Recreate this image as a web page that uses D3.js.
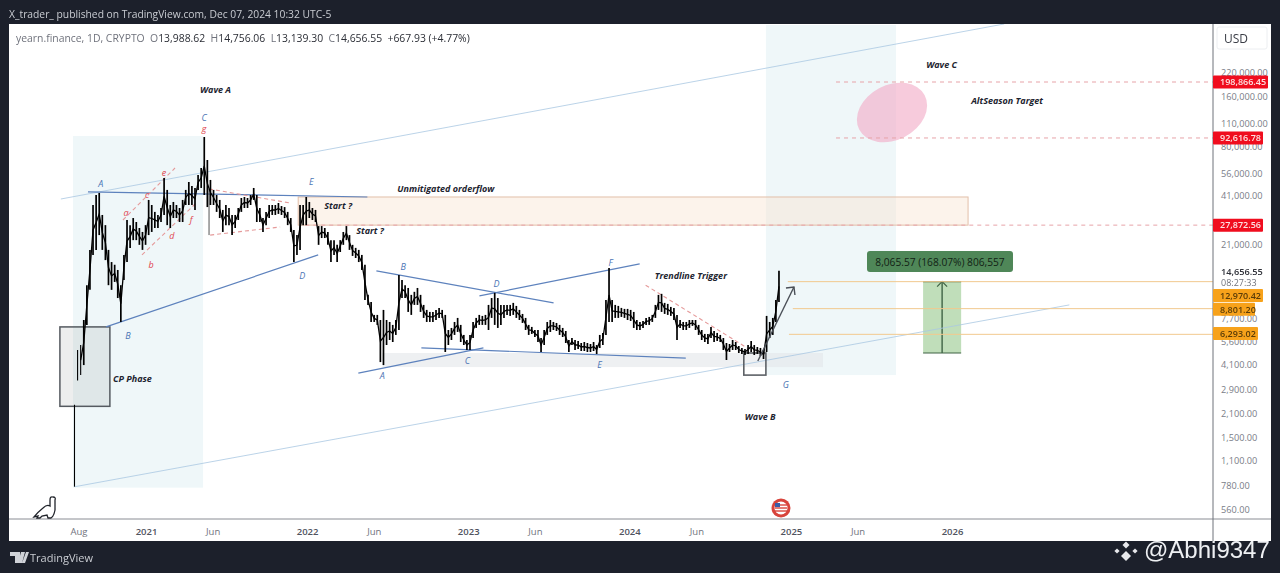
<!DOCTYPE html>
<html><head><meta charset="utf-8">
<script src="https://cdn.jsdelivr.net/npm/d3@7"></script>
<style>
html,body{margin:0;padding:0;background:#1c202b;overflow:hidden}
svg{display:block;filter:blur(.45px)}
text{font-family:"Open Sans",sans-serif}
</style></head><body><svg id="c" width="1280" height="573"></svg>
<script>
// ---------- data ----------
const seriesStart = new Date(2020,6,23);
const weeklyLow = [770,3290,3540,4060,7030,11350,18300,19600,24000,19600,17050,12100,11350,12650,10150,7320,13000,16600,20100,22400,22400,21000,19600,21000,24000,25050,26450,26450,28700,31600,27500,26450,30300,30300,28700,28700,36200,36200,36200,33850,44500,45700,41500,35200,36200,36200,32950,30300,25050,27500,27500,24000,26450,29500,32950,34750,34750,36200,38800,28700,28700,25050,27500,30300,31600,31600,32050,31600,30300,27500,25050,16600,18300,19600,27500,27500,30300,29500,28700,21000,23050,23050,21000,16600,18300,16600,19050,21000,22400,19600,18050,17550,16600,14900,9875,9240,7320,7320,7030,4230,4060,5340,5720,5565,6130,6560,10150,10150,8395,8060,9240,9240,8395,7735,7320,7320,7320,7520,7735,7735,4855,5340,5720,6130,6385,5565,5340,4990,4990,5880,6745,7030,7030,7030,6560,7735,7030,6745,7030,7735,8060,7950,8060,7735,7520,7220,6560,6130,6215,5960,5565,4855,5340,6130,6385,6560,6470,6130,5960,5490,4855,5340,4990,5060,4920,4920,4855,4855,4920,4725,5130,5340,6130,7320,7320,7735,7735,7840,7735,7520,7420,6745,6560,6560,6745,7030,7030,7320,7735,8630,8395,8170,8060,7950,7520,5720,6745,6560,6560,6745,6935,6560,6130,5720,5565,5415,5880,5565,5640,5565,4990,4350,4855,4990,4990,4790,4725,4660,4725,4855,4660,4725,4595,4410,4855,5880,6130,7320,9625];
const weeklyHigh = [2360,4990,5340,7520,12100,19600,36200,41500,42700,31600,27500,19600,16600,16000,14900,12100,18300,29500,27500,30300,28700,26450,25050,27500,38800,36200,32950,31600,34750,52400,44500,36200,37750,36200,34750,38800,44500,49600,46950,45700,54600,60050,91700,67000,51000,44500,41500,38800,33850,36200,34750,31600,31600,34750,39850,40400,39850,41500,45700,41500,34750,30300,32950,36200,36200,36200,37200,35700,35200,32950,30300,25750,24000,36200,36200,40400,37750,34750,33850,27150,27150,26450,25050,22400,22400,21000,22400,25050,27150,24000,21000,20150,19600,18300,16000,10600,9625,8060,8060,7520,8630,7520,7320,7030,7520,13900,13000,12100,11650,10600,11050,11650,10600,9240,8630,8395,8395,8630,8870,8630,8060,6560,6745,7320,7735,7030,6130,5720,6130,7320,7735,8060,7950,8060,9240,10150,10900,10150,9240,9240,9240,9240,9500,9115,8630,8170,7735,7030,6840,6560,6560,5880,6560,7320,7520,7320,7220,7030,6745,6470,5720,5880,5720,5640,5490,5565,5490,5415,5565,5340,6130,6300,9875,15300,9875,9240,9115,8870,8750,8750,8630,8395,7520,7320,7420,7735,7840,8060,9240,10600,10750,9500,9370,8990,8870,8060,7520,7320,7320,7520,7520,7520,7030,6560,6215,6215,6840,6470,6300,6130,5880,5490,5415,5720,5565,5270,5130,5060,5340,5640,5340,5200,5130,4990,7950,7320,7735,9875,14756];

const xTickDates = [new Date(2020,7,1),new Date(2021,0,1),new Date(2021,5,1),new Date(2022,0,1),new Date(2022,5,1),new Date(2023,0,1),new Date(2023,5,1),new Date(2024,0,1),new Date(2024,5,1),new Date(2025,0,1),new Date(2025,5,1),new Date(2026,0,1)];
const priceTicks = [220000,160000,110000,80000,56000,41000,21000,7700,5600,4100,2900,2100,1500,1100,780,560];
const sideLabels = ["Aug","2021","Jun","2022","Jun","2023","Jun","2024","Jun","2025","Jun","2026"];

// zones and drawings: decimal years and prices
const zones = [[2020.547,2021.354,93000,760],[2024.845,2025.652,424000,3540]];
const channelLines = [[2020.472,39300,2026.323,430000],[2020.559,770,2026.727,9240]];
const blueLines = [[2020.640,43300,2022.373,40400],[2020.752,6840,2022.068,18300],[2022.317,3640,2023.093,5130],[2022.708,5130,2024.348,4470],[2022.429,14700,2023.528,9500],[2023.068,10450,2024.062,16200]];
const redDashed = [[2020.857,29500,2021.180,60050],[2020.975,18300,2021.311,37200],[2021.391,45100,2021.894,37200],[2021.398,24000,2021.832,26800],[2024.099,12100,2024.739,5060]];
const targets = [{v:194500,from:2025.280,label:"198,866.45",w:55,tag:194500},{v:90500,from:2025.280,label:"92,616.78",w:50,tag:90500},{v:27500,from:2021.988,label:"27,872.56",w:50,tag:27500}];
const supports = [{v:12700,from:2024.981,label:"12,970.42",w:50,tag:10500},{v:8780,from:2025.012,label:"8,801.20",w:42,tag:8700},{v:6180,from:2024.988,label:"6,293.02",w:45,tag:6250}];
const orderBox = [2021.944,2026.099,40400,27500];
const greyBand = [2022.466,2025.199,4790,3950];
const cpBox = [2020.466,2020.776,6840,2310];
const gBox = [2024.708,2024.845,4790,3540];
const measure = [2025.820,2026.056,12700,4790];
const arrowLine = [2024.795,4290,2025.019,11800];
const notes = [["Wave A",2021.335,167400],["Wave C",2025.839,235500],["AltSeason Target",2026.118,144000],["Unmitigated orderflow",2022.559,43300],["Start ?",2022.106,34300],["Start ?",2022.304,24350],["Trendline Trigger",2024.155,13200],["CP Phase",2020.795,3220],["Wave B",2024.714,1920]];
const blueLetters = [["A",2020.720,46300],["B",2020.888,5800],["C",2021.360,114000],["D",2021.969,13200],["E",2022.025,47600],["A",2022.466,3340],["B",2022.596,14900],["C",2022.994,4120],["D",2023.174,11800],["E",2023.814,3900],["F",2023.882,15700],["G",2024.969,2960]];
const redLetters = [["g",2021.360,98000],["a",2020.876,31100],["b",2021.031,15300],["c",2021.006,39800],["d",2021.161,22700],["e",2021.111,53800],["f",2021.280,28300]];

// ---------- scales ----------
const x = d3.scaleTime().domain([new Date(2021,0,1),new Date(2026,0,1)]).range([146,952]);
const y = d3.scaleLog().domain([220000,560]).range([73,510]);
const d0 = new Date(2021,0,1);
const X = yr => x(new Date(+d0+(yr-2021)*365.25*864e5));
const svg = d3.select("#c");

// frame
svg.append("rect").attr("x",9).attr("y",24).attr("width",1262).attr("height",517).attr("fill","#fff");
svg.append("defs").append("clipPath").attr("id","plot").append("rect").attr("x",9).attr("y",24).attr("width",1204).attr("height",495);
const g = svg.append("g").attr("clip-path","url(#plot)");

// zones
g.selectAll(null).data(zones).join("rect").attr("x",d=>X(d[0])).attr("width",d=>X(d[1])-X(d[0])).attr("y",d=>y(d[2])).attr("height",d=>y(d[3])-y(d[2])).attr("fill","#eff7f9");
g.append("rect").attr("x",X(orderBox[0])).attr("width",X(orderBox[1])-X(orderBox[0])).attr("y",y(orderBox[2])).attr("height",y(orderBox[3])-y(orderBox[2])).attr("fill","#f8e3d0").attr("fill-opacity",.42).attr("stroke","#e3bfa9").attr("stroke-width",1);
g.append("rect").attr("x",X(greyBand[0])).attr("width",X(greyBand[1])-X(greyBand[0])).attr("y",y(greyBand[2])).attr("height",y(greyBand[3])-y(greyBand[2])).attr("fill","#e3e6ea").attr("opacity",.6);
g.append("rect").attr("x",X(cpBox[0])).attr("width",X(cpBox[1])-X(cpBox[0])).attr("y",y(cpBox[2])).attr("height",y(cpBox[3])-y(cpBox[2])).attr("fill","#7c8a8a").attr("fill-opacity",.14).attr("stroke","#555a60").attr("stroke-width",1.5);
g.append("ellipse").attr("transform","translate(892,112.5) rotate(-28)").attr("rx",37).attr("ry",27.5).attr("fill","#f2a8c4").attr("opacity",.6);

// measure
const mx0=X(measure[0]),mx1=X(measure[1]),mxc=(mx0+mx1)/2;
g.append("rect").attr("x",mx0).attr("width",mx1-mx0).attr("y",y(measure[2])).attr("height",y(measure[3])-y(measure[2])).attr("fill","#b5d8ae").attr("opacity",.85);
[measure[2],measure[3]].forEach(v=>g.append("line").attr("x1",mx0).attr("x2",mx1).attr("y1",y(v)).attr("y2",y(v)).attr("stroke","#3f6345").attr("stroke-width",1.2));
g.append("line").attr("x1",mxc).attr("x2",mxc).attr("y1",y(measure[2])).attr("y2",y(measure[3])).attr("stroke","#3f6345").attr("stroke-width",1.4);
g.append("path").attr("d",`M${mxc-5},${y(measure[2])+5}L${mxc},${y(measure[2])}L${mxc+5},${y(measure[2])+5}`).attr("fill","none").attr("stroke","#3f6345").attr("stroke-width",1.2);

// lines
const seg = (sel,data,c,w,dash)=>sel.selectAll(null).data(data).join("line").attr("x1",d=>X(d[0])).attr("y1",d=>y(d[1])).attr("x2",d=>X(d[2])).attr("y2",d=>y(d[3])).attr("stroke",c).attr("stroke-width",w).attr("stroke-dasharray",dash||null);
seg(g,channelLines,"#a9c8e2",.8);
seg(g,blueLines,"#5d82bd",1.2);
seg(g,redDashed,"#e59a9a",1.1,"4 3");
g.append("line").attr("x1",X(2021.391)).attr("x2",X(2021.391)).attr("y1",y(45100)).attr("y2",y(24000)).attr("stroke","#555").attr("stroke-width",1);
g.selectAll(null).data(targets).join("line").attr("x1",d=>X(d.from)).attr("x2",1213).attr("y1",d=>y(d.v)).attr("y2",d=>y(d.v)).attr("stroke","#e7a3a8").attr("stroke-width",1).attr("stroke-dasharray","4 4");
g.selectAll(null).data(supports).join("line").attr("x1",d=>X(d.from)).attr("x2",1213).attr("y1",d=>y(d.v)).attr("y2",d=>y(d.v)).attr("stroke","#f2c98f").attr("stroke-width",1);
g.append("rect").attr("x",X(gBox[0])).attr("width",X(gBox[1])-X(gBox[0])).attr("y",y(gBox[2])).attr("height",y(gBox[3])-y(gBox[2])).attr("fill","none").attr("stroke","#5d6166").attr("stroke-width",1.6);

// price
const wx = i=>x(d3.timeDay.offset(seriesStart,i*7));
const weeks = weeklyLow.map((l,i)=>({i,l,h:weeklyHigh[i]}));
g.selectAll(null).data(weeks).join("line").attr("x1",d=>wx(d.i)).attr("x2",d=>wx(d.i)).attr("y1",d=>y(d.l)).attr("y2",d=>y(d.h)).attr("stroke","#000").attr("stroke-width",d=>d.i<3?1.1:1.7);
g.append("path").attr("d",d3.line().x(d=>wx(d.i)).y(d=>(y(d.l)+y(d.h))/2)(weeks.slice(2))).attr("fill","none").attr("stroke","#000").attr("stroke-width",1.3);

// arrow
const ax0=X(arrowLine[0]),ay0=y(arrowLine[1]),ax1=X(arrowLine[2]),ay1=y(arrowLine[3]);
g.append("line").attr("x1",ax0).attr("y1",ay0).attr("x2",ax1).attr("y2",ay1).attr("stroke","#4a4f57").attr("stroke-width",1.4);
g.append("path").attr("d",`M${ax1-8},${ay1+1}L${ax1},${ay1}L${ax1+1},${ay1+8}`).attr("fill","none").attr("stroke","#4a4f57").attr("stroke-width",1.4);

// measure label
g.append("rect").attr("x",867).attr("y",251).attr("width",146).attr("height",21).attr("rx",3).attr("fill","#4f8758");
g.append("text").attr("x",940).attr("y",265.5).attr("text-anchor","middle").attr("font-size",10.2).attr("fill","#122215").text("8,065.57 (168.07%) 806,557");

// notes
g.selectAll(null).data(notes).join("text").attr("x",d=>X(d[1])).attr("y",d=>y(d[2])).attr("font-size",9).attr("font-style","italic").attr("font-weight",700).attr("fill","#1d2430").text(d=>d[0]);
g.selectAll(null).data(blueLetters).join("text").attr("x",d=>X(d[1])).attr("y",d=>y(d[2])).attr("text-anchor","middle").attr("font-size",9).attr("font-style","italic").attr("fill","#4d76b5").text(d=>d[0]);
g.selectAll(null).data(redLetters).join("text").attr("x",d=>X(d[1])).attr("y",d=>y(d[2])).attr("text-anchor","middle").attr("font-size",9).attr("font-style","italic").attr("fill","#e0454f").text(d=>d[0]);

// axes
svg.append("line").attr("x1",9).attr("x2",1271).attr("y1",519).attr("y2",519).attr("stroke","#8a8d94");
svg.append("line").attr("x1",1213).attr("x2",1213).attr("y1",24).attr("y2",541).attr("stroke","#6f727a");
const ax = svg.append("g").attr("transform","translate(0,519)").call(d3.axisBottom(x).tickValues(xTickDates).tickSize(0).tickFormat((d,i)=>sideLabels[i]));
ax.select(".domain").remove();
ax.selectAll("text").attr("dy",0).attr("y",15.5).style("font-family",'"Open Sans",sans-serif').attr("font-size",9.5).attr("font-weight",(d,i)=>i%2?600:400).attr("fill",(d,i)=>i%2?"#50535e":"#70737d");
const ay = svg.append("g").attr("transform","translate(1221,0)").call(d3.axisRight(y).tickValues(priceTicks).tickSize(0).tickFormat(d3.format(",.2f")));
ay.select(".domain").remove();
ay.selectAll("text").attr("x",0).style("font-family",'"Open Sans",sans-serif').attr("font-size",9.2).attr("fill","#7a7d87");

// price tags
const tag=(ty,w,fill,label,color)=>{svg.append("rect").attr("x",1213).attr("y",ty-6.5).attr("width",w).attr("height",13).attr("rx",1).attr("fill",fill);
 svg.append("text").attr("x",1220).attr("y",ty+3.2).attr("font-size",9).attr("font-weight",600).attr("fill",color).text(label);};
targets.forEach(d=>tag(y(d.tag),d.w,"#f00d1e",d.label,"#fde3e3"));
supports.forEach(d=>tag(y(d.tag),d.w,"#f7a21b",d.label,"#5a3c08"));
svg.append("text").attr("x",1221).attr("y",y(14656.55)+4).attr("font-size",9.2).attr("font-weight",600).attr("fill","#2e3038").text("14,656.55");
svg.append("text").attr("x",1221).attr("y",286).attr("font-size",9).attr("fill","#6f727c").text("08:27:33");

// USD
svg.append("rect").attr("x",1217).attr("y",27).attr("width",50).attr("height",22).attr("rx",2).attr("fill","#fff").attr("stroke","#eceef1");
svg.append("text").attr("x",1236).attr("y",43).attr("text-anchor","middle").attr("font-size",12).attr("fill","#3a3d46").text("USD");

// header
svg.append("text").attr("x",9).attr("y",18).attr("font-size",10.3).attr("fill","#c9ccd2").text("X_trader_ published on TradingView.com, Dec 07, 2024 10:32 UTC-5");
const hdr = svg.append("text").attr("x",16).attr("y",42).attr("font-size",10.4);
[["yearn.finance, 1D, CRYPTO  O","#6f727c"],["13,988.62","#2a2d35"],["  H","#6f727c"],["14,756.06","#2a2d35"],["  L","#6f727c"],["13,139.30","#2a2d35"],["  C","#6f727c"],["14,656.55","#2a2d35"],["  +667.93 (+4.77%)","#2a2d35"]].forEach(d=>hdr.append("tspan").style("white-space","pre").attr("fill",d[1]).text(d[0]));

// dino
svg.append("path").attr("d","M34,517 Q38,512 43,508 Q47,504 50,506 L50,500 Q50,496 53,497 Q56,497 55,500 L55,510 Q54,516 51,518 L48,518 L47,515 L42,516 L40,518 L37,518 L38,516 Z").attr("fill","#fff").attr("stroke","#20232a").attr("stroke-width",1.3);
// news icon
svg.append("circle").attr("cx",781).attr("cy",508).attr("r",9.5).attr("fill","#d8443c");
svg.append("circle").attr("cx",781).attr("cy",508).attr("r",6.5).attr("fill","#fff");
[505,508,511].forEach(v=>svg.append("line").attr("x1",775).attr("x2",787).attr("y1",v).attr("y2",v).attr("stroke","#d8443c").attr("stroke-width",1.4));
svg.append("rect").attr("x",775).attr("y",503).attr("width",5).attr("height",4).attr("fill","#3a5ea8");

// footer
svg.append("path").attr("d","M10,552 H20 V563 H15 V556 H10 Z M21,552 H25 L22,563 H18 Z M26,552 H29 L25,563 H22 Z").attr("fill","#cfd2d8");
svg.append("text").attr("x",30).attr("y",562).attr("font-size",11).attr("fill","#c9ccd2").text("TradingView");
svg.selectAll(null).data([[1126,545,3.5],[1117,551,2.6],[1135,551,2.6],[1126,556,5]]).join("path").attr("d",d=>`M${d[0]-d[2]},${d[1]}L${d[0]},${d[1]-d[2]}L${d[0]+d[2]},${d[1]}L${d[0]},${d[1]+d[2]}Z`).attr("fill","#e8e9ec");
svg.append("text").attr("x",1144).attr("y",558).attr("font-size",24).style("font-family",'"Liberation Sans",sans-serif').attr("fill","#eef0f3").text("@Abhi9347");
</script></body></html>
